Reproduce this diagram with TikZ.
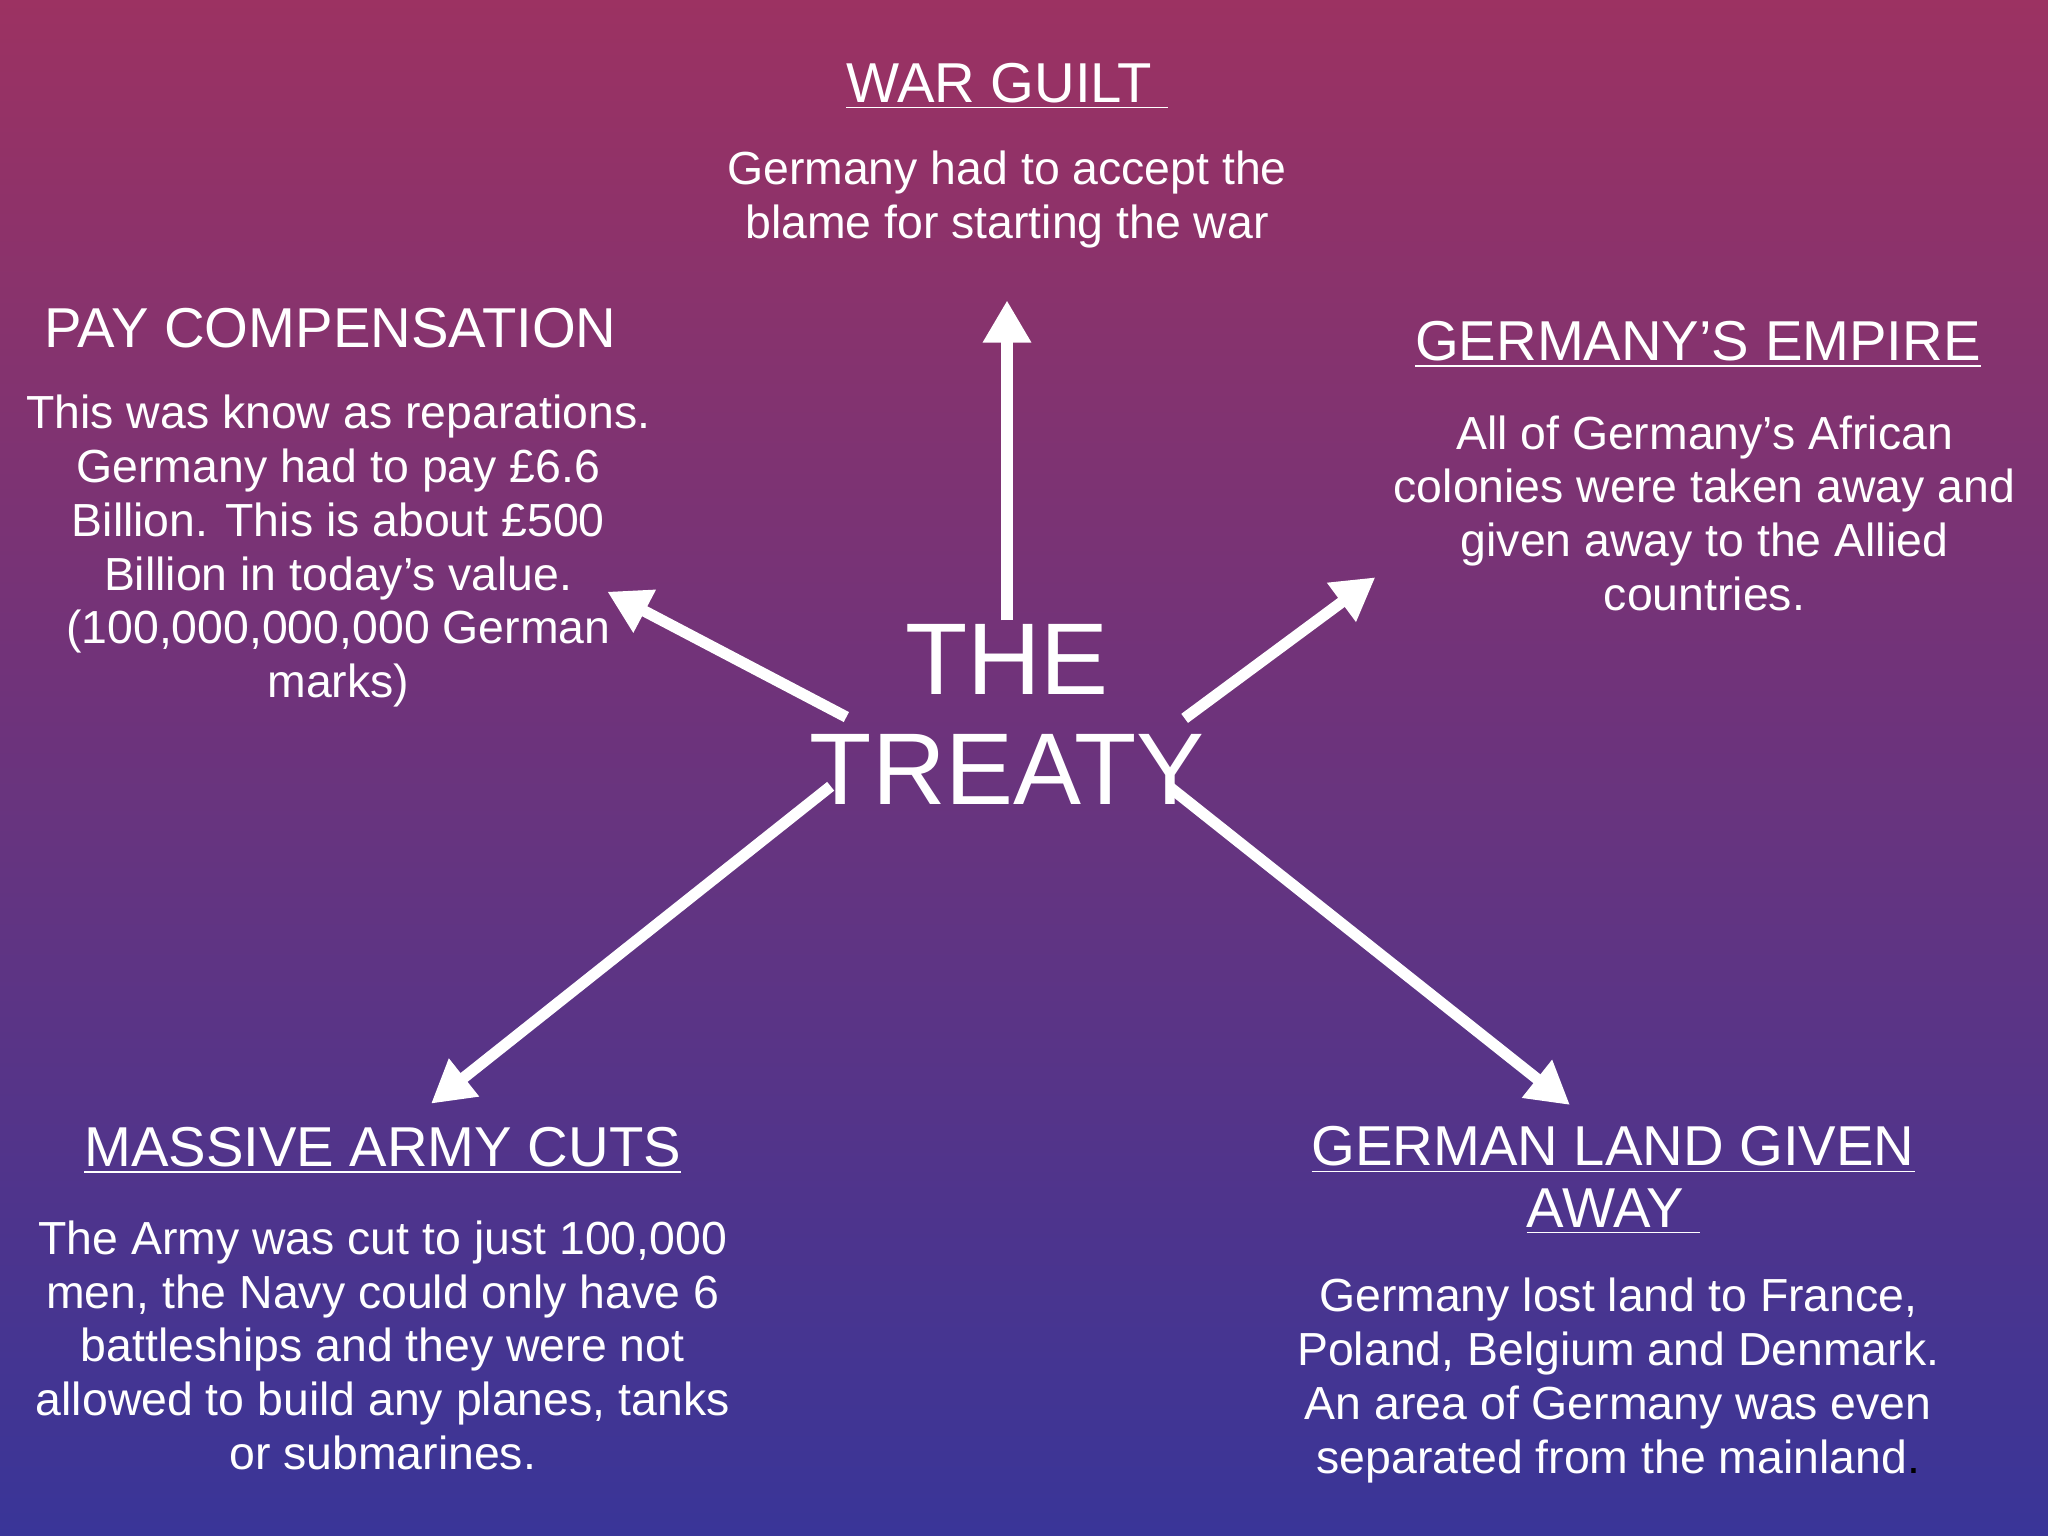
\documentclass[tikz,border=0pt]{standalone}
\usepackage{fontspec}
\setmainfont{Liberation Sans}
\usetikzlibrary{arrows.meta}
\tikzset{
  body/.style={text=white,align=center,font=\fontsize{13.2}{15.3}\selectfont},
  ttl/.style={text=white,align=center,font=\fontsize{16}{18.4}\selectfont},
  arr/.style={white,line width=3.2pt,-{Triangle[length=12pt,width=13pt]}}
}
\begin{document}
\begin{tikzpicture}[x=0.0130612cm,y=-0.0130612cm]
\shade[top color={rgb,255:red,156;green,50;blue,98},bottom color={rgb,255:red,57;green,53;blue,152}] (0,0) rectangle (1568,1176);
\useasboundingbox (0,0) rectangle (1568,1176);
\node[ttl] (wgt) at (771,66) {\underline{WAR GUILT\ }};
\node[body] (wgb) at (771,153) {Germany had to accept the\\blame for starting the war};
\node[ttl] (pct) at (253,251) {PAY COMPENSATION};
\node[body] (pcb) at (259,422) {This was know as reparations.\\Germany had to pay £6.6\\Billion. This is about £500\\Billion in today’s value.\\(100,000,000,000 German\\marks)};
\node[ttl] (get) at (1300,264) {\underline{GERMANY’S EMPIRE}};
\node[body] (geb) at (1305,393) {All of Germany’s African\\colonies were taken away and\\given away to the Allied\\countries.};
\node[text=white,align=center,font=\fontsize{29}{31.5}\selectfont] (tr) at (771,547) {THE\\TREATY};
\node[ttl] (mat) at (293,881) {\underline{MASSIVE ARMY CUTS}};
\node[body] (mab) at (293,1030) {The Army was cut to just 100,000\\men, the Navy could only have 6\\battleships and they were not\\allowed to build any planes, tanks\\or submarines.};
\node[ttl,font=\fontsize{16}{17.6}\selectfont] (glt) at (1235,904) {\underline{GERMAN LAND GIVEN}\\\underline{AWAY\ }};
\node[body] (glb) at (1239,1057) {Germany lost land to France,\\Poland, Belgium and Denmark.\\An area of Germany was even\\separated from the mainland{\color{black}.}};
\coordinate (s1) at (771,475); \coordinate (e1) at (771,230);
\coordinate (s2) at (648,549); \coordinate (e2) at (465,453);
\coordinate (s3) at (907,550); \coordinate (e3) at (1053,442);
\coordinate (s4) at (636,602); \coordinate (e4) at (330,845);
\coordinate (s5) at (896,603); \coordinate (e5) at (1202,846);
\draw[arr] (s1) -- (e1);
\draw[arr] (s2) -- (e2);
\draw[arr] (s3) -- (e3);
\draw[arr] (s4) -- (e4);
\draw[arr] (s5) -- (e5);
\end{tikzpicture}
\end{document}
